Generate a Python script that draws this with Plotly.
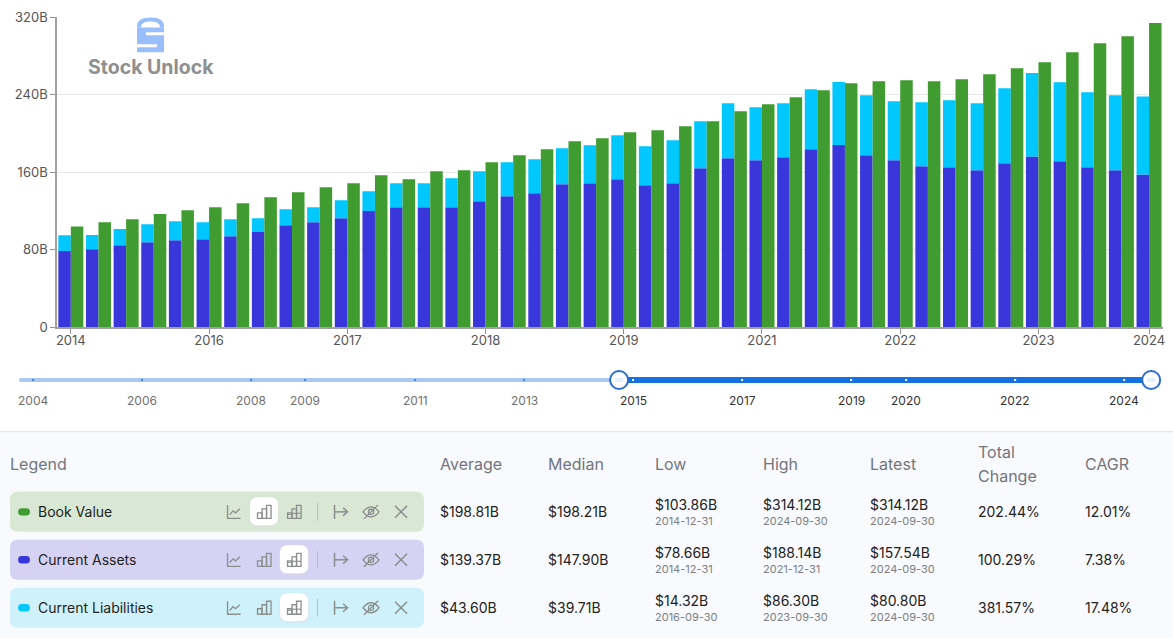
import plotly.graph_objects as go

W, H = 1173, 638
XA, XB, YA, YB = 1.0, 0.9973, 7.6, 0.976

quarters = [f"{y}-{md}" for y in range(2014, 2025) for md in ("03-31", "06-30", "09-30", "12-31")][3:-1]

book_value = [103.86, 108.4, 111.5, 116.7, 120.8, 123.9, 128.0, 134.2, 139.4, 144.5,
              148.7, 156.9, 152.8, 161.0, 162.1, 170.3, 177.6, 183.8, 192.0, 195.1,
              201.3, 203.4, 207.5, 212.7, 223.0, 230.2, 237.4, 244.7, 251.9, 254.0,
              255.0, 254.0, 256.0, 261.2, 267.4, 273.6, 283.9, 293.2, 300.4, 314.12]
current_assets = [78.66, 80.5, 84.6, 87.7, 89.8, 90.8, 93.9, 98.1, 105.3, 108.4,
                  112.5, 119.8, 123.9, 123.9, 123.9, 130.1, 135.2, 138.3, 147.6, 148.7,
                  152.8, 146.6, 148.7, 164.1, 174.5, 172.4, 175.5, 183.8, 188.14, 177.6,
                  172.4, 166.2, 165.2, 162.1, 169.3, 176.2, 171.4, 165.2, 162.1, 157.54]
current_liabilities = [16.3, 14.5, 16.6, 18.6, 19.6, 17.6, 17.6, 14.32, 16.5, 15.5,
                       18.6, 20.6, 24.8, 24.8, 29.9, 30.9, 35.1, 35.1, 37.2, 39.2,
                       45.4, 40.3, 44.3, 48.6, 56.7, 54.7, 55.7, 61.9, 65.0, 61.9,
                       60.9, 66.1, 69.1, 69.1, 77.4, 86.30, 81.5, 77.4, 77.4, 80.80]

x_tick_positions = ["2014-12-31", "2016-03-31", "2017-06-30", "2018-09-30", "2019-12-31",
                    "2021-03-31", "2022-06-30", "2023-09-30", "2024-09-30"]
x_tick_labels = ["2014", "2016", "2017", "2018", "2019", "2021", "2022", "2023", "2024"]
y_tick_values = [0, 80, 160, 240, 320]
y_tick_labels = ["0", "80B", "160B", "240B", "320B"]

slider_left = [(33, "2004"), (142, "2006"), (251, "2008"), (305, "2009"), (415, "2011"), (524, "2013")]
slider_right = [(633, "2015"), (742, "2017"), (851, "2019"), (906, "2020"), (1015, "2022"), (1124, "2024")]

columns = [440, 547.5, 655, 762.5, 870, 977.5, 1085]
headers = ["Average", "Median", "Low", "High", "Latest", None, "CAGR"]
rows = [
    ("Book Value", "#409c31", "#d8e8d4", 0, 512,
     ["$198.81B", "$198.21B", ("$103.86B", "2014-12-31"), ("$314.12B", "2024-09-30"),
      ("$314.12B", "2024-09-30"), "202.44%", "12.01%"]),
    ("Current Assets", "#3936db", "#d5d2f3", 1, 560,
     ["$139.37B", "$147.90B", ("$78.66B", "2014-12-31"), ("$188.14B", "2021-12-31"),
      ("$157.54B", "2024-09-30"), "100.29%", "7.38%"]),
    ("Current Liabilities", "#00c8ff", "#cff1fb", 2, 608,
     ["$43.60B", "$39.71B", ("$14.32B", "2016-09-30"), ("$86.30B", "2023-09-30"),
      ("$80.80B", "2024-09-30"), "381.57%", "17.48%"]),
]

FONT = "Inter, Roboto, sans-serif"


def px(x):
    return ((x - XA) / XB) / W


def py(y):
    return 1 - ((y - YA) / YB) / H


def pt(x, y):
    return f"{px(x):.5f},{py(y):.5f}"


def poly(points, close=False):
    return "M" + " L".join(pt(x, y) for x, y in points) + (" Z" if close else "")


def rrect_path(x0, y0, x1, y1, r):
    return (f"M{pt(x0 + r, y0)} L{pt(x1 - r, y0)} Q{pt(x1, y0)} {pt(x1, y0 + r)} "
            f"L{pt(x1, y1 - r)} Q{pt(x1, y1)} {pt(x1 - r, y1)} "
            f"L{pt(x0 + r, y1)} Q{pt(x0, y1)} {pt(x0, y1 - r)} "
            f"L{pt(x0, y0 + r)} Q{pt(x0, y0)} {pt(x0 + r, y0)} Z")


shapes, annotations = [], []


def add_path(path, fill=None, line=None, width=1, layer="above", opacity=None):
    s = dict(type="path", xref="paper", yref="paper", path=path, layer=layer,
             line=dict(color=line or "rgba(0,0,0,0)", width=width if line else 0))
    if fill:
        s["fillcolor"] = fill
    if opacity is not None:
        s["opacity"] = opacity
    shapes.append(s)


def add_rect(x0, y0, x1, y1, fill, layer="above", line=None, width=0):
    shapes.append(dict(type="rect", xref="paper", yref="paper", x0=px(x0), x1=px(x1),
                       y0=py(y1), y1=py(y0), fillcolor=fill, layer=layer,
                       line=dict(color=line or "rgba(0,0,0,0)", width=width)))


def add_circle(cx, cy, r, fill, line=None, width=0):
    shapes.append(dict(type="circle", xref="paper", yref="paper", x0=px(cx - r), x1=px(cx + r),
                       y0=py(cy + r), y1=py(cy - r), fillcolor=fill,
                       line=dict(color=line or "rgba(0,0,0,0)", width=width)))


def add_text(x, y, text, size=14, color="#222", anchor="left", weight=None):
    font = dict(family=FONT, size=size, color=color)
    if weight:
        font["weight"] = weight
    annotations.append(dict(xref="paper", yref="paper", x=px(x), y=py(y), text=text, showarrow=False,
                            xanchor=anchor, yanchor="middle", font=font, align=anchor,
                            borderpad=0, borderwidth=0))


# bottom panel
add_rect(-5, 432, W + 5, H + 10, "#f9fafd", layer="below")
add_rect(-5, 431, W + 5, 432.2, "#e4e6e9", layer="below")

# logo
LOGO = "#98bffb"
add_path(f"M{pt(137, 27)} L{pt(137, 26)} Q{pt(137, 17)} {pt(150.5, 17)} Q{pt(164, 17)} {pt(164, 26)} "
         f"L{pt(164, 27)} L{pt(160, 27)} Q{pt(160, 21)} {pt(150.5, 21)} Q{pt(141, 21)} {pt(141, 27)} Z",
         fill=LOGO)
add_path(poly([(137, 27), (164, 27), (164, 32), (146, 32), (146, 35), (164, 35), (164, 52),
               (137, 52), (137, 47), (157, 47), (157, 44), (137, 44)], True), fill=LOGO)
add_text(150.5, 67, "Stock Unlock", size=19.5, color="#8f8f8f", anchor="center", weight=700)

# slider
add_path(rrect_path(19, 378, 620, 382, 2), fill="#a9c8f3")
add_rect(619, 377, 1151, 383, "#1570e0")
for x, label in slider_left:
    add_rect(x - 1, 379, x + 1, 381, "#3b82f6")
    add_text(x, 400.5, label, size=12, color="#6f6f6f", anchor="center")
for x, label in slider_right:
    add_rect(x - 1, 379, x + 1, 381, "#ffffff")
    add_text(x, 400.5, label, size=12, color="#333333", anchor="center")
for cx in (619, 1151):
    add_circle(cx, 380, 9, "#ffffff", "#2a6fd0", 2)
    add_rect(cx - 4, 378, cx + 4, 382, "#e8f0fd")

# table headers
HEAD = "#72767d"
add_text(10, 464, "Legend", size=16, color=HEAD)
for cx, head in zip(columns, headers):
    if head:
        add_text(cx, 464, head, size=16, color=HEAD)
add_text(columns[5], 452, "Total", size=16, color=HEAD)
add_text(columns[5], 476, "Change", size=16, color=HEAD)

ICON = "#8a8f8c"
for name, color, bg, active, yc, values in rows:
    add_path(rrect_path(10, yc - 20, 424, yc + 20, 8), fill=bg, layer="below")
    add_path(rrect_path(18, yc - 3.7, 30, yc + 3.7, 3.7), fill=color)
    add_text(38, yc, name, size=14, color="#1f2420")
    bx = [264, 294][1 if active else 0]
    add_path(rrect_path(bx - 14.5, yc - 14.5, bx + 14.5, yc + 14.5, 8), fill="#dfe1e2")
    add_path(rrect_path(bx - 14, yc - 14.5, bx + 14, yc + 13.5, 8), fill="#ffffff")
    # line icon
    add_path(poly([(227.5, yc - 6.5), (227.5, yc + 6.5), (240.5, yc + 6.5)]), line=ICON, width=1.3)
    add_path(poly([(229.5, yc + 3), (233, yc - 1), (235.5, yc + 1), (240, yc - 3)]), line=ICON, width=1.3)
    # bar icon
    for x0, top in ((257.5, 1), (262, -3), (266.5, -6.5)):
        add_path(poly([(x0, yc + 6.5), (x0, yc + top), (x0 + 4.5, yc + top), (x0 + 4.5, yc + 6.5)], True),
                 line=ICON, width=1.3)
    # stacked icon
    for x0, top in ((287.5, 1), (292, -3), (296.5, -6.5)):
        add_path(poly([(x0, yc + 6.5), (x0, yc + top), (x0 + 4.5, yc + top), (x0 + 4.5, yc + 6.5)], True),
                 line=ICON, width=1.3)
        add_path(poly([(x0, yc + 2.5 if top == 1 else yc + 1.5), (x0 + 4.5, yc + 2.5 if top == 1 else yc + 1.5)]),
                 line=ICON, width=1.1)
    # separator
    add_path(poly([(317.5, yc - 9), (317.5, yc + 9)]), line="#b9bfb9", width=1)
    # pin arrow
    add_path(poly([(334.5, yc - 7), (334.5, yc + 7)]), line=ICON, width=1.5)
    add_path(poly([(334.5, yc), (347, yc)]), line=ICON, width=1.5)
    add_path(poly([(343, yc - 4), (347.5, yc), (343, yc + 4)]), line=ICON, width=1.5)
    # hidden eye
    add_path(f"M{pt(363, yc)} Q{pt(371, yc - 10)} {pt(379, yc)} Q{pt(371, yc + 10)} {pt(363, yc)} Z",
             line=ICON, width=1.3)
    add_circle(371, yc, 2.6, "rgba(0,0,0,0)", ICON, 1.3)
    add_path(poly([(364, yc + 7), (378, yc - 7)]), line=ICON, width=1.3)
    # close
    add_path(poly([(395, yc - 6), (407, yc + 6)]), line=ICON, width=1.5)
    add_path(poly([(407, yc - 6), (395, yc + 6)]), line=ICON, width=1.5)
    # values
    for cx, value in zip(columns, values):
        if isinstance(value, tuple):
            add_text(cx, yc - 7, value[0], size=14, color="#222222")
            add_text(cx, yc + 9, value[1], size=11, color="#7b7f85")
        else:
            add_text(cx, yc, value, size=14, color="#222222")

fig = go.Figure()
fig.add_bar(x=quarters, y=current_assets, name="Current Assets", marker=dict(color="#3936db", line=dict(width=0)),
            offsetgroup="stack")
fig.add_bar(x=quarters, y=current_liabilities, base=current_assets, name="Current Liabilities",
            marker=dict(color="#00c8ff", line=dict(width=0)), offsetgroup="stack")
fig.add_bar(x=quarters, y=book_value, name="Book Value", marker=dict(color="#409c31", line=dict(width=0)),
            offsetgroup="book")

fig.update_layout(
    width=W, height=H, margin=dict(l=0, r=0, t=0, b=0), showlegend=False,
    paper_bgcolor="#ffffff", plot_bgcolor="#ffffff",
    barmode="group", bargap=0.095, bargroupgap=0,
    font=dict(family=FONT, size=13, color="#555555"),
    shapes=shapes, annotations=annotations,
    xaxis=dict(domain=[px(57), px(1162.7)], type="category", categoryorder="array", categoryarray=quarters,
               range=[-0.5, 39.5], tickmode="array", tickvals=x_tick_positions, ticktext=x_tick_labels,
               ticks="outside", ticklen=5, tickwidth=1, tickcolor="#8f8f8f", showgrid=False,
               showline=True, linecolor="#a0a0a0", linewidth=1.5, tickangle=0, ticklabelstandoff=-4,
               tickfont=dict(family=FONT, size=13, color="#555555")),
    yaxis=dict(domain=[py(327), py(17)], range=[0, 320], tickmode="array", tickvals=y_tick_values,
               ticktext=y_tick_labels, ticks="outside", ticklen=5, tickwidth=1, tickcolor="#8f8f8f",
               showgrid=True, gridcolor="#e8e8e8", gridwidth=1, zeroline=False,
               showline=True, linecolor="#a0a0a0", linewidth=1.5,
               tickfont=dict(family=FONT, size=13, color="#555555")),
)

fig.write_html(
    "out.html",
    config={"displayModeBar": False},
    post_script=(
        "var s=document.createElement('style');"
        "s.textContent='html,body{margin:0!important;padding:0!important;overflow:hidden;"
        "background:linear-gradient(#fff 0,#fff 432px,#f9fafd 432px)}';"
        "document.head.appendChild(s);"
    ),
)
